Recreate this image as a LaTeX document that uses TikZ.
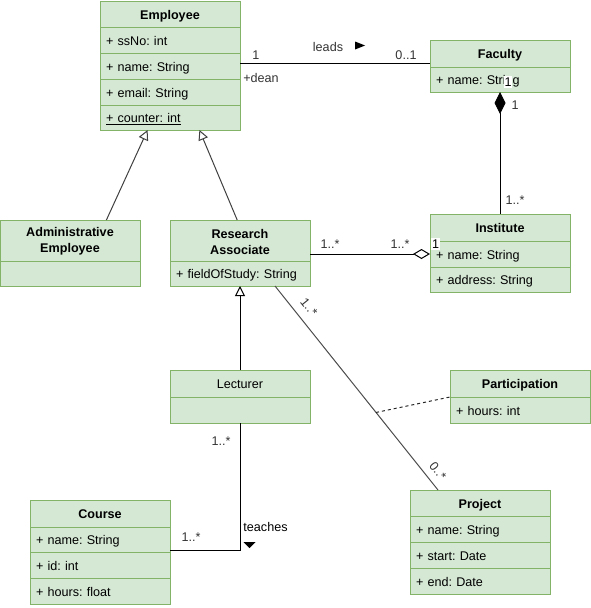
\documentclass[tikz,border=0pt]{standalone}
\usepackage{fontspec}
\setmainfont{Liberation Sans}
\usetikzlibrary{arrows.meta,calc}
\definecolor{umlfill}{HTML}{D5E8D4}
\definecolor{umlline}{HTML}{82B366}
\frenchspacing
\begin{document}
\begin{tikzpicture}[x=1pt,y=-1pt,font=\fontsize{12.6}{14.5}\selectfont\frenchspacing,line width=1pt,
  cbox/.style={draw=umlline,fill=umlfill,line width=1pt,minimum width=140pt,anchor=north west,inner ysep=0pt,outer sep=0pt},
  chdr/.style={cbox,font=\fontsize{12.6}{14.5}\selectfont\bfseries,inner xsep=0pt,text height=12pt,text depth=2pt},
  chdrtwo/.style={cbox,font=\fontsize{12.6}{16}\selectfont\bfseries,align=center,inner xsep=0pt},
  cattr/.style={cbox,text width=128pt,inner xsep=6pt,align=left,text height=12pt,text depth=2pt},
  mult/.style={text=black!80,inner sep=0pt},
  onebox/.style={fill=white,text=black,inner xsep=0.8pt,inner ysep=2pt},
  gen/.style={-{Triangle[open,fill=white,length=10pt,width=10pt]}},
  comp/.style={{Diamond[length=22pt,width=11pt]}-},
  aggr/.style={-{Diamond[open,fill=white,length=17pt,width=10pt]}},
  assocline/.style={draw=black!70},
  assocclass/.style={draw=black!85,dash pattern=on 3pt off 3pt}]
\useasboundingbox (0,0) rectangle (591,608);
% Employee
\node[chdr,minimum height=26pt] (empH) at (100,1) {Employee};
\node[cattr,minimum height=26pt] (empA1) at (100,27) {+ ssNo: int};
\node[cattr,minimum height=26pt] (empA2) at (100,53) {+ name: String};
\node[cattr,minimum height=26pt] (empA3) at (100,79) {+ email: String};
\node[cattr,minimum height=25pt] (empA4) at (100,105) {\underline{+ counter: int}};
% Faculty
\node[chdr,minimum height=27pt] (facH) at (430,40) {Faculty};
\node[cattr,minimum height=25pt] (facA1) at (430,67) {+ name: String};
% Institute
\node[chdr,minimum height=27pt] (instH) at (430,214) {Institute};
\node[cattr,minimum height=26pt] (instA1) at (430,241) {+ name: String};
\node[cattr,minimum height=25pt] (instA2) at (430,267) {+ address: String};
% Research Associate
\node[chdrtwo,minimum height=41pt] (raH) at (170,220) {\strut Research\\Associate};
\node[cattr,minimum height=25pt] (raA1) at (170,261) {+ fieldOfStudy: String};
% Administrative Employee
\node[chdrtwo,minimum height=41pt] (admH) at (0,220) {\strut Administrative\\Employee};
\node[cattr,minimum height=25pt] (admA1) at (0,261) {};
% Lecturer
\node[chdr,minimum height=27pt,font=\fontsize{12.6}{14.5}\selectfont] (lecH) at (170,370) {Lecturer};
\node[cattr,minimum height=26pt] (lecA1) at (170,397) {};
% Participation
\node[chdr,minimum height=27pt] (partH) at (450,370) {Participation};
\node[cattr,minimum height=26pt] (partA1) at (450,397) {+ hours: int};
% Project
\node[chdr,minimum height=26pt] (projH) at (410,490) {Project};
\node[cattr,minimum height=26pt] (projA1) at (410,516) {+ name: String};
\node[cattr,minimum height=26pt] (projA2) at (410,542) {+ start: Date};
\node[cattr,minimum height=26pt] (projA3) at (410,568) {+ end: Date};
% Course
\node[chdr,minimum height=27pt] (crsH) at (30,500) {Course};
\node[cattr,minimum height=25pt] (crsA1) at (30,527) {+ name: String};
\node[cattr,minimum height=26pt] (crsA2) at (30,552) {+ id: int};
\node[cattr,minimum height=26pt] (crsA3) at (30,578) {+ hours: float};

% leads association
\coordinate (leadL) at ([yshift=3pt]empA2.east);
\draw (leadL) -- (leadL -| facH.west);
\node[mult] (lm1) at (256,55) {1};
\node[mult] (lm2) at (406,55) {0..1};
\node[mult] (lname) at (328,47) {leads};
\node[mult] (ldean) at (261,78) {+dean};
\fill (355,41.5) -- (365,45.5) -- (355,49.5) -- cycle;

% generalizations
\draw[gen,draw=black!75] ($(admH.north west)!0.76!(admH.north east)$) -- ($(empA4.south west)!0.34!(empA4.south east)$);
\draw[gen,draw=black!75] ($(raH.north west)!0.48!(raH.north east)$) -- ($(empA4.south west)!0.71!(empA4.south east)$);
\draw[gen] (lecH.north) -- (raA1.south);

% composition Faculty - Institute
\draw[comp] (facA1.south) -- (instH.north);
\node[mult] (cm1) at (515,105) {1};
\node[mult] (cm2) at (515,200) {1..*};
\node[onebox] (cm3) at (508,82) {1};

% aggregation RA - Institute
\draw[aggr] (instA1.west -| raH.east) -- (instA1.west);
\node[mult] (am1) at (330,244) {1..*};
\node[mult] (am2) at (400,244) {1..*};
\node[onebox] (am3) at (435.5,244) {1};

% association RA - Project with class Participation
\coordinate (asA) at ($(raA1.south west)!0.75!(raA1.south east)$);
\coordinate (asB) at ($(projH.north west)!0.2!(projH.north east)$);
\draw[assocline] (asA) -- (asB);
\draw[assocclass] ($(asA)!0.62!(asB)$) -- (partH.south west);
\node[mult,rotate=-51] (pm1) at (309,307) {1..*};
\node[mult,rotate=-51] (pm2) at (438,471) {0..*};

% teaches
\draw (lecA1.south) |- ([yshift=-10.5pt]crsA1.east);
\node[mult] (tm1) at (221,441) {1..*};
\node[mult] (tm2) at (191,537) {1..*};
\node[mult,text=black] (tname) at (265.5,527) {teaches};
\fill (243.5,542) -- (255.5,542) -- (249.5,548) -- cycle;
\end{tikzpicture}
\end{document}
